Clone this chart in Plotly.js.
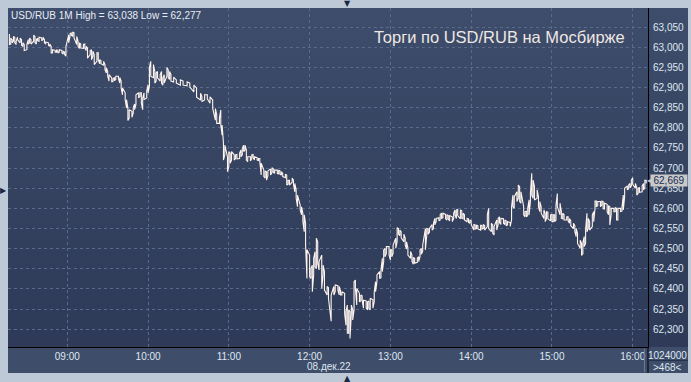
<!DOCTYPE html>
<html>
<head>
<meta charset="utf-8">
<script src="https://cdn.plot.ly/plotly-3.0.1.min.js"></script>
<style>
  html, body { margin: 0; padding: 0; }
  body { width: 691px; height: 382px; background: #bdc9d7; position: relative; overflow: hidden; }
  #plotbg { position: absolute; left: 8px; top: 8px; width: 680px; height: 339px;
            background: linear-gradient(to bottom, #3e4d6b 0%, #34425f 55%, #2e3a57 100%); }
  #xbg { position: absolute; left: 8px; top: 347px; width: 680px; height: 26px; background: #3e4d69; }
  #chart { position: absolute; left: 0; top: 0; width: 691px; height: 382px; }
</style>
</head>
<body>
<div id="plotbg"></div>
<div id="xbg"></div>
<div id="chart"></div>
<script>
// 1-minute bars, time = minutes since midnight (08.12.2022), high / low of each sampled bar
const times = [
  497,498,499,500,501,502,503,505,506,507,
  508,510,511,512,513,515,516,517,518,519,
  521,522,523,524,526,527,528,529,531,532,
  533,534,536,537,538,539,541,542,543,544,
  545,547,548,549,550,552,553,554,555,557,
  558,559,560,562,563,564,565,567,568,569,
  570,571,573,574,575,576,578,579,580,581,
  583,584,585,586,588,589,590,591,593,594,
  595,596,597,599,600,601,602,604,605,606,
  607,609,610,611,612,614,615,616,617,
  619,621,624,626,629,631,634,636,639,640,
  642,644,646,648,650,651,653,654,655,656,
  657,659,660,661,662,664,665,666,668,669,
  670,671,672,673,674,676,677,678,679,681,
  682,683,684,686,687,688,689,691,692,693,
  694,696,697,698,699,700,702,703,704,705,
  707,708,709,710,711,713,714,715,716,717,
  718,720,721,722,723,724,725,726,727,729,
  730,731,733,734,
  736,738,739,741,742,743,744,746,747,748,
  749,750,751,752,753,754,755,757,758,759,
  760,762,763,764,765,767,768,769,770,772,
  773,774,775,776,777,779,780,781,782,784,
  785,786,787,788,790,791,792,793,795,796,
  797,798,800,801,802,803,804,806,807,808,
  809,811,812,813,814,816,817,818,819,821,
  822,823,824,826,827,828,829,830,832,833,
  834,835,837,838,839,840,842,843,844,845,
  847,848,849,850,
  852,853,855,856,857,859,860,861,862,864,
  865,866,867,869,870,871,872,874,875,876,
  877,879,880,881,882,883,884,885,886,887,
  889,890,891,892,894,895,896,897,899,900,
  901,902,903,904,906,907,908,909,911,912,
  913,914,916,917,918,919,921,922,923,924,
  925,926,927,928,930,931,932,933,934,936,
  937,938,939,941,942,943,944,946,947,948,
  949,951,952,953,954,956,957,958,959,960,
  962,963,964,965,967,968,969,970
];
const highs = [
  63.033,63.023,63.019,63.027,63.025,63.015,63.025,63.023,63.019,63.011,
  63.007,63.007,63.019,63.023,63.019,63.030,63.027,63.019,63.023,63.025,
  63.023,63.025,63.019,63.013,63.011,63.008,63.002,62.994,62.992,62.994,
  62.990,62.994,62.992,62.990,62.988,63.002,63.031,63.033,63.036,63.038,
  63.036,63.027,63.015,63.011,63.008,63.007,63.008,63.002,62.998,62.992,
  62.994,62.990,62.982,62.986,62.986,62.969,62.967,62.965,62.957,62.949,
  62.940,62.932,62.924,62.922,62.925,62.928,62.928,62.925,62.916,62.899,
  62.887,62.870,62.849,62.845,62.841,62.851,62.859,62.882,62.887,62.887,
  62.887,62.874,62.887,62.891,62.907,62.950,62.965,62.957,62.940,62.936,
  62.940,62.932,62.940,62.924,62.932,62.950,62.944,62.940,62.932,
  62.926,62.919,62.919,62.916,62.914,62.911,62.906,62.899,62.886,62.877,
  62.882,62.882,62.877,62.869,62.848,62.832,62.824,62.844,62.807,62.762,
  62.757,62.728,62.741,62.737,62.741,62.733,62.733,62.734,62.737,62.745,
  62.749,62.757,62.757,62.745,62.728,62.728,62.733,62.734,62.728,62.726,
  62.724,62.724,62.712,62.695,62.693,62.691,62.693,62.698,62.701,62.698,
  62.695,62.695,62.695,62.693,62.691,62.687,62.685,62.683,62.670,62.670,
  62.675,62.670,62.662,62.646,62.633,62.608,62.604,62.588,62.584,62.563,
  62.497,62.484,62.451,62.459,62.476,62.492,62.526,62.517,62.468,62.484,
  62.459,62.443,62.406,62.403,
  62.385,62.406,62.410,62.408,62.406,62.395,62.393,62.389,62.344,62.360,
  62.348,62.344,62.360,62.348,62.418,62.422,62.401,62.389,62.385,62.383,
  62.372,62.370,62.368,62.370,62.377,62.373,62.393,62.418,62.435,62.443,
  62.447,62.476,62.497,62.501,62.505,62.505,62.497,62.497,62.509,62.526,
  62.552,62.550,62.546,62.542,62.536,62.526,62.517,62.502,62.493,62.484,
  62.478,62.476,62.476,62.480,62.497,62.501,62.509,62.550,62.550,62.549,
  62.550,62.560,62.563,62.575,62.575,62.577,62.585,62.588,62.588,62.585,
  62.584,62.582,62.582,62.579,62.588,62.596,62.596,62.598,62.596,62.594,
  62.588,62.584,62.575,62.574,62.571,62.569,62.560,62.559,62.559,62.557,
  62.559,62.557,62.560,62.557,
  62.584,62.600,62.563,62.559,62.555,62.571,62.575,62.579,62.575,62.574,
  62.571,62.569,62.567,62.565,62.604,62.633,62.629,62.641,62.658,62.654,
  62.641,62.604,62.592,62.593,62.600,62.621,62.637,62.687,62.670,62.654,
  62.646,62.629,62.617,62.604,62.596,62.588,62.592,62.590,62.584,62.585,
  62.584,62.584,62.608,62.637,62.613,62.592,62.588,62.584,62.579,62.579,
  62.575,62.569,62.563,62.557,62.550,62.538,62.521,62.513,62.516,62.530,
  62.546,62.588,62.575,62.567,62.584,62.592,62.618,62.618,62.617,62.617,
  62.618,62.617,62.613,62.610,62.607,62.604,62.600,62.600,62.602,62.600,
  62.600,62.600,62.602,62.633,62.650,62.656,62.658,62.662,62.670,62.676,
  62.662,62.651,62.650,62.651,62.656,62.662,62.670,62.670
];
const lows = [
  63.007,63.008,63.011,63.015,63.011,63.007,63.019,63.011,63.005,63.002,
  62.992,62.994,63.008,63.011,63.008,63.015,63.011,63.008,63.016,63.015,
  63.016,63.019,63.011,63.008,63.005,63.002,62.986,62.986,62.988,62.988,
  62.986,62.988,62.986,62.983,62.982,62.978,63.011,63.027,63.030,63.027,
  63.023,63.007,63.002,62.997,62.998,62.997,62.998,62.992,62.973,62.982,
  62.969,62.978,62.957,62.965,62.969,62.959,62.959,62.955,62.944,62.936,
  62.928,62.916,62.914,62.916,62.917,62.920,62.922,62.911,62.899,62.882,
  62.870,62.849,62.818,62.824,62.826,62.837,62.845,62.858,62.874,62.878,
  62.862,62.845,62.870,62.874,62.887,62.903,62.928,62.924,62.911,62.916,
  62.924,62.916,62.911,62.906,62.911,62.928,62.924,62.920,62.916,
  62.914,62.911,62.906,62.906,62.904,62.901,62.889,62.876,62.869,62.865,
  62.869,62.872,62.861,62.848,62.819,62.811,62.811,62.807,62.782,62.720,
  62.733,62.691,62.704,62.712,62.720,62.720,62.724,62.723,62.724,62.728,
  62.733,62.741,62.745,62.720,62.716,62.718,62.723,62.726,62.720,62.720,
  62.718,62.716,62.683,62.679,62.675,62.670,62.681,62.683,62.689,62.689,
  62.687,62.687,62.685,62.685,62.683,62.679,62.676,62.658,62.660,62.658,
  62.665,62.660,62.641,62.625,62.604,62.596,62.584,62.567,62.542,62.509,
  62.426,62.430,62.426,62.393,62.435,62.455,62.451,62.464,62.447,62.401,
  62.435,62.397,62.385,62.377,
  62.320,62.385,62.393,62.397,62.385,62.385,62.385,62.339,62.310,62.290,
  62.290,62.277,62.339,62.323,62.348,62.401,62.360,62.368,62.370,62.372,
  62.352,62.353,62.348,62.352,62.348,62.352,62.368,62.393,62.418,62.426,
  62.428,62.443,62.468,62.480,62.488,62.484,62.472,62.480,62.488,62.501,
  62.517,62.536,62.532,62.527,62.517,62.509,62.499,62.484,62.476,62.469,
  62.461,62.464,62.466,62.468,62.480,62.486,62.494,62.497,62.534,62.536,
  62.541,62.546,62.550,62.559,62.567,62.569,62.571,62.575,62.577,62.574,
  62.571,62.574,62.569,62.567,62.575,62.584,62.575,62.582,62.574,62.575,
  62.574,62.571,62.567,62.565,62.563,62.560,62.546,62.549,62.550,62.549,
  62.546,62.549,62.550,62.546,
  62.555,62.550,62.542,62.538,62.534,62.546,62.559,62.565,62.560,62.563,
  62.560,62.557,62.559,62.555,62.571,62.604,62.600,62.617,62.625,62.617,
  62.613,62.584,62.579,62.579,62.582,62.584,62.617,62.633,62.625,62.621,
  62.625,62.604,62.592,62.588,62.575,62.567,62.575,62.574,62.569,62.567,
  62.567,62.567,62.571,62.604,62.584,62.575,62.574,62.571,62.571,62.569,
  62.563,62.557,62.550,62.542,62.530,62.513,62.501,62.483,62.488,62.505,
  62.513,62.542,62.550,62.546,62.555,62.567,62.600,62.604,62.607,62.604,
  62.608,62.600,62.598,62.592,62.584,62.559,62.584,62.592,62.592,62.571,
  62.571,62.592,62.593,62.596,62.629,62.646,62.648,62.651,62.656,62.660,
  62.650,62.633,62.637,62.640,62.641,62.646,62.651,62.662
];
const lastClose = 62.669;
const tickHours = [540, 600, 660, 720, 780, 840, 900, 960];
const tickLabels = ['09:00','10:00','11:00','12:00','13:00','14:00','15:00','16:00'];
const instrument = 'USD/RUB';
const titleText = 'Торги по USD/RUB на Мосбирже';
const dateLabel = '08.дек.22';
const volumeLabel = '1024000';
const countLabel = '>468<';

const fmt = v => v.toFixed(3).replace('.', ',');

// zig-zag through each bar's high/low so the line looks like the 1M bar chart
const xs = [], ys = [];
const n = Math.min(times.length, highs.length, lows.length);
for (let i = 0; i < n; i++) {
  if (i % 2 === 0) { xs.push(times[i], times[i]); ys.push(highs[i], lows[i]); }
  else { xs.push(times[i], times[i]); ys.push(lows[i], highs[i]); }
}
xs.push(times[n - 1]); ys.push(lastClose);

const dayHigh = Math.max(...highs.slice(0, n));
const dayLow = Math.min(...lows.slice(0, n));

const txt = '#dfe7f2';
const font = 'Liberation Sans, Arial, sans-serif';

const trace = {
  type: 'scatter', mode: 'lines', x: xs, y: ys,
  line: { color: '#fff4ee', width: 1.1 },
  hoverinfo: 'skip'
};

const layout = {
  width: 691, height: 382,
  margin: { l: 8, r: 43, t: 8, b: 35, pad: 0 },
  paper_bgcolor: 'rgba(0,0,0,0)',
  plot_bgcolor: 'rgba(0,0,0,0)',
  separators: ', ',
  showlegend: false,
  font: { family: font, size: 10, color: txt },
  xaxis: {
    range: [495.95, 971.35],
    tickmode: 'array', tickvals: tickHours, ticktext: tickLabels,
    showgrid: true, gridcolor: '#5a6a8a', griddash: '3px,3px', gridwidth: 1,
    zeroline: false, ticks: '', showline: true, linecolor: '#000000', linewidth: 1,
    tickfont: { family: font, size: 10, color: txt },
    fixedrange: true
  },
  yaxis: {
    side: 'right',
    range: [62.2558, 63.0975],
    tick0: 62.3, dtick: 0.05, tickformat: '.3f',
    showgrid: true, gridcolor: '#5a6a8a', griddash: '3px,3px', gridwidth: 1,
    zeroline: false, ticks: '', showline: true, linecolor: '#000000', linewidth: 1,
    tickfont: { family: font, size: 10, color: txt },
    ticklabelstandoff: 2,
    fixedrange: true
  },
  shapes: [
    { type: 'line', xref: 'paper', yref: 'paper', x0: 1, x1: 1, y0: 0, y1: -0.0767,
      line: { color: '#000000', width: 1 } },
    { type: 'line', xref: 'paper', yref: 'paper', x0: 0.9945, x1: 0.9945, y0: -0.006, y1: -0.074,
      line: { color: '#6d7b93', width: 1 } },
    { type: 'line', xref: 'paper', yref: 'paper', x0: 1, x1: 1.0625, y0: -0.0398, y1: -0.0398,
      line: { color: '#27324a', width: 1 } }
  ],
  annotations: [
    { xref: 'paper', yref: 'paper', x: 0, y: 1, xanchor: 'left', yanchor: 'top', xshift: 1, yshift: 0,
      showarrow: false, text: instrument + ' 1M High = ' + fmt(dayHigh) + ' Low = ' + fmt(dayLow),
      font: { family: font, size: 10, color: '#e6ecf4' } },
    { xref: 'paper', yref: 'paper', x: 0.9672, y: 0.9153, xanchor: 'right', yanchor: 'middle',
      showarrow: false, text: titleText, font: { family: font, size: 16.5, color: '#efe7e3' } },
    { xref: 'paper', yref: 'paper', x: 0.502, y: -0.0575, xanchor: 'center', yanchor: 'middle',
      showarrow: false, text: dateLabel, font: { family: font, size: 10, color: txt } },
    { xref: 'paper', yref: 'paper', x: 1.031, y: -0.0236, xanchor: 'center', yanchor: 'middle',
      showarrow: false, text: volumeLabel, font: { family: font, size: 10, color: txt } },
    { xref: 'paper', yref: 'paper', x: 1.031, y: -0.059, xanchor: 'center', yanchor: 'middle',
      showarrow: false, text: countLabel, font: { family: font, size: 10, color: txt } },
    { xref: 'paper', yref: 'y', x: 1, y: lastClose, xanchor: 'left', yanchor: 'middle', xshift: 2,
      showarrow: false, text: fmt(lastClose), bgcolor: '#c9c9c9', width: 36, height: 11, borderpad: 0,
      font: { family: font, size: 10, color: '#1a2b55' } },
    { xref: 'paper', yref: 'y', x: 1, y: lastClose, xanchor: 'left', yanchor: 'middle', xshift: -3,
      showarrow: false, text: '◀', font: { family: 'DejaVu Sans', size: 8, color: '#c9c9c9' } },
    { xref: 'paper', yref: 'paper', x: 0.5297, y: 1.0147, xanchor: 'center', yanchor: 'middle',
      showarrow: false, text: '▼', font: { family: 'DejaVu Sans', size: 8, color: '#1b2740' } },
    { xref: 'paper', yref: 'paper', x: 0.531, y: -0.0929, xanchor: 'center', yanchor: 'middle',
      showarrow: false, text: '▲', font: { family: 'DejaVu Sans', size: 8, color: '#1b2740' } },
    { xref: 'paper', yref: 'paper', x: -0.0078, y: 0.463, xanchor: 'center', yanchor: 'middle',
      showarrow: false, text: '▶', font: { family: 'DejaVu Sans', size: 8, color: '#1b2740' } }
  ]
};

Plotly.newPlot('chart', [trace], layout, { staticPlot: true, displayModeBar: false });
</script>
</body>
</html>
